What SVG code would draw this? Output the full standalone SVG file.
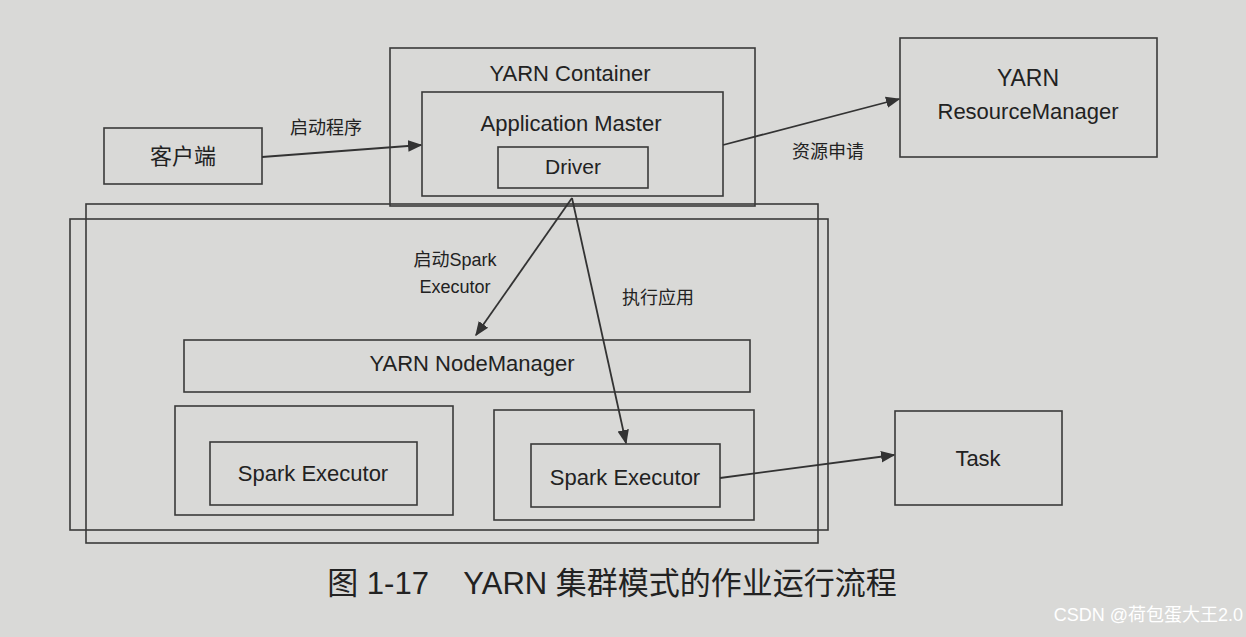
<svg xmlns="http://www.w3.org/2000/svg" width="1246" height="637" viewBox="0 0 1246 637">
<style>
.b{fill:none;stroke:#3a3a3a;stroke-width:1.6}
.t{font-family:"Liberation Sans","Noto Sans CJK SC",sans-serif;fill:#222;text-anchor:middle}
.c{stroke:#333;stroke-width:1.8;fill:none;marker-end:url(#a)}
</style>
<defs><marker id="a" viewBox="0 0 10 10" refX="9" refY="5" markerWidth="8" markerHeight="8" orient="auto"><path d="M0,1 L10,5 L0,9 z" fill="#333"/></marker></defs>
<rect width="1246" height="637" fill="#d9d9d7"/>
<g id="client"><rect class="b" x="104" y="128" width="158" height="56"/><text class="t" x="183" y="164" font-size="22">客户端</text></g>
<g id="container"><rect class="b" x="390" y="48" width="365" height="158"/><text class="t" x="570" y="81" font-size="22">YARN Container</text></g>
<g id="am"><rect class="b" x="422" y="92" width="301" height="104"/><text class="t" x="571" y="131" font-size="22">Application Master</text></g>
<g id="driver"><rect class="b" x="498" y="147" width="150" height="41"/><text class="t" x="573" y="174" font-size="21">Driver</text></g>
<g id="rm"><rect class="b" x="900" y="38" width="257" height="119"/><text class="t" x="1028" y="86" font-size="23">YARN</text><text class="t" x="1028" y="119" font-size="22">ResourceManager</text></g>
<g id="cluster"><rect class="b" x="86" y="204" width="732" height="339"/><rect class="b" x="70" y="219" width="758" height="311"/></g>
<g id="nm"><rect class="b" x="184" y="340" width="566" height="52"/><text class="t" x="472" y="371" font-size="22">YARN NodeManager</text></g>
<g id="exec1"><rect class="b" x="175" y="406" width="278" height="109"/><rect class="b" x="210" y="442" width="207" height="63"/><text class="t" x="313" y="481" font-size="22">Spark Executor</text></g>
<g id="exec2"><rect class="b" x="494" y="410" width="260" height="110"/><rect class="b" x="531" y="444" width="189" height="63"/><text class="t" x="625" y="485" font-size="22">Spark Executor</text></g>
<g id="task"><rect class="b" x="895" y="411" width="167" height="94"/><text class="t" x="978" y="466" font-size="22">Task</text></g>
<g id="connectors">
<path class="c" d="M262,157 L421,145"/>
<path class="c" d="M723,145 L899,99"/>
<path class="c" d="M572,198 L476,335"/>
<path class="c" d="M572,198 L626,443"/>
<path class="c" d="M720,478 L894,455"/>
<text class="t" x="326" y="134" font-size="18">启动程序</text>
<text class="t" x="828" y="158" font-size="18">资源申请</text>
<text class="t" x="455" y="266" font-size="18">启动Spark</text>
<text class="t" x="455" y="293" font-size="18">Executor</text>
<text class="t" x="658" y="304" font-size="18">执行应用</text>
</g>
<text class="t" x="612" y="594" font-size="31" style="white-space:pre">图 1-17    YARN 集群模式的作业运行流程</text>
<text x="1243" y="621" font-size="18" fill="#fff" text-anchor="end" font-family="Liberation Sans,Noto Sans CJK SC,sans-serif">CSDN @荷包蛋大王2.0</text>
</svg>
